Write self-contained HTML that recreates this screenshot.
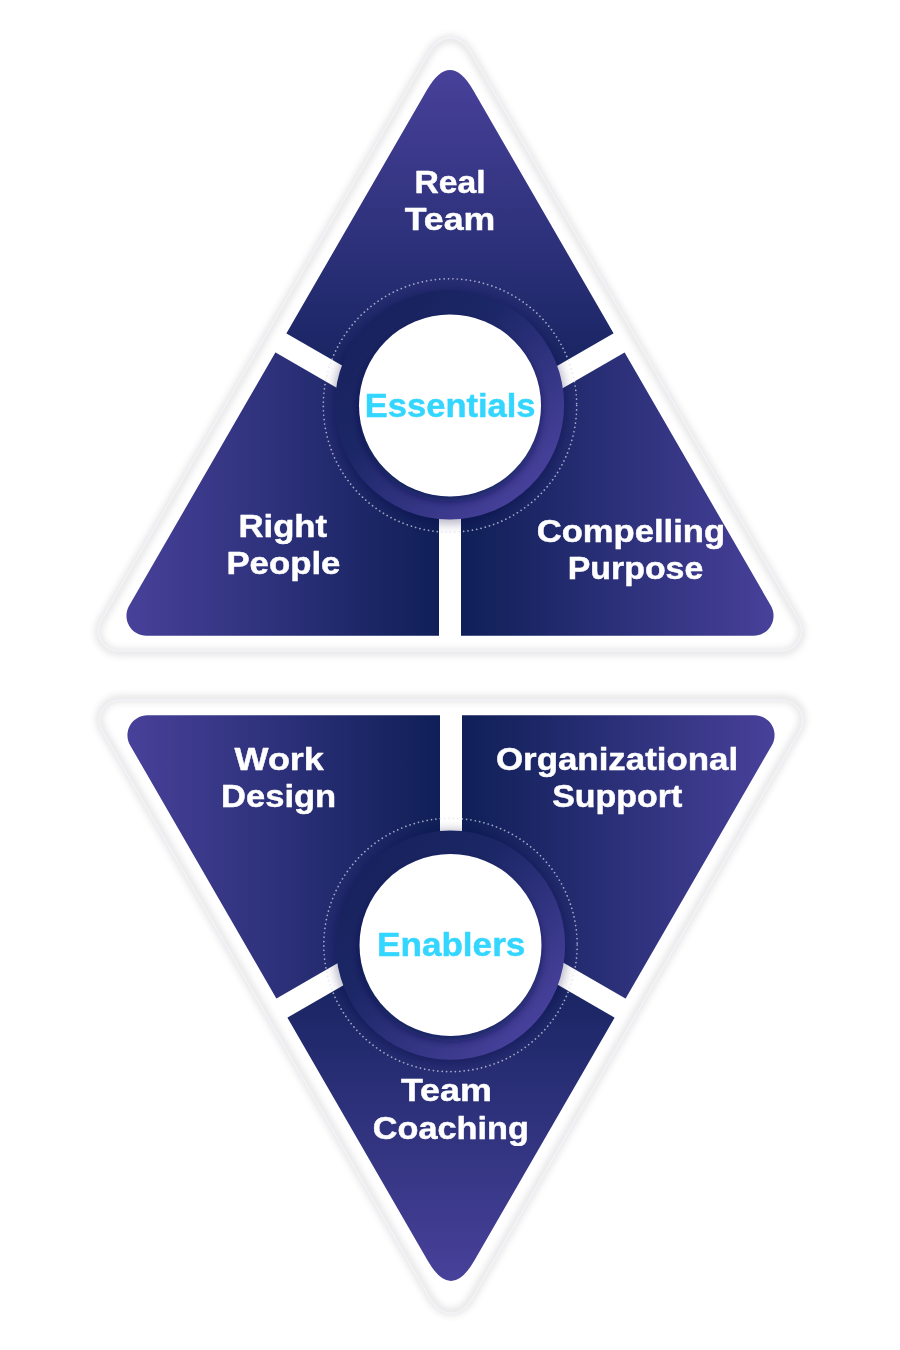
<!DOCTYPE html>
<html lang="en">
<head>
<meta charset="utf-8">
<title>Essentials and Enablers</title>
<style>
html,body{margin:0;padding:0;background:#fff;}
body{width:900px;height:1350px;overflow:hidden;}
svg{display:block;}
text{font-family:"Liberation Sans",sans-serif;font-weight:700;white-space:pre;stroke-width:0.45px;stroke-linejoin:round;}
</style>
</head>
<body>
<svg width="900" height="1350" viewBox="0 0 900 1350">
<defs>
<linearGradient id="gTop" gradientUnits="userSpaceOnUse" x1="0" y1="70" x2="0" y2="430">
<stop offset="0" stop-color="#48419a"/><stop offset="1" stop-color="#0f1f57"/></linearGradient>
<linearGradient id="gLeft" gradientUnits="userSpaceOnUse" x1="126" y1="0" x2="440" y2="0">
<stop offset="0" stop-color="#48419a"/><stop offset="1" stop-color="#0f1f57"/></linearGradient>
<linearGradient id="gRight" gradientUnits="userSpaceOnUse" x1="460" y1="0" x2="774" y2="0">
<stop offset="0" stop-color="#0f1f57"/><stop offset="1" stop-color="#48419a"/></linearGradient>
<linearGradient id="gRing" gradientUnits="objectBoundingBox" x1="0.15" y1="0.15" x2="0.85" y2="0.85">
<stop offset="0" stop-color="#17225e"/><stop offset="0.35" stop-color="#1c2767"/><stop offset="1" stop-color="#46409a"/></linearGradient>
<filter id="blur3" x="-10%" y="-10%" width="120%" height="120%"><feGaussianBlur stdDeviation="3.3"/></filter>
<filter id="blur4" x="-20%" y="-20%" width="140%" height="140%"><feGaussianBlur stdDeviation="4"/></filter>
<filter id="blur5" x="-20%" y="-20%" width="140%" height="140%"><feGaussianBlur stdDeviation="5"/></filter>
</defs>
<rect width="900" height="1350" fill="#fff"/>
<g>
<path d="M428.55 53.25 C440.45 32.63 459.55 32.63 471.45 53.25 L798.81 620.25 A20.50 20.50 0 0 1 781.05 651.00 L118.95 651.00 A20.50 20.50 0 0 1 101.19 620.25 Z" fill="none" stroke="#000" stroke-opacity="0.095" stroke-width="8" filter="url(#blur3)" transform="translate(0,1.3)"/>
<path d="M428.55 53.25 C440.45 32.63 459.55 32.63 471.45 53.25 L798.81 620.25 A20.50 20.50 0 0 1 781.05 651.00 L118.95 651.00 A20.50 20.50 0 0 1 101.19 620.25 Z" fill="none" stroke="#f5f4fd" stroke-width="1.2"/>
<clipPath id="clipt"><path d="M426.90 90.01 Q450.00 50.00 473.10 90.01 L770.89 605.80 A20.00 20.00 0 0 1 753.57 635.80 L146.43 635.80 A20.00 20.00 0 0 1 129.11 605.80 Z"/></clipPath>
<g clip-path="url(#clipt)">
<polygon points="450.00,427.83 -589.23,-172.17 -750.00,-1972.17 1650.00,-1972.17 1489.23,-172.17" fill="url(#gTop)"/>
<polygon points="439.00,446.88 -600.23,-153.12 -1950.00,1646.88 439.00,1646.88" fill="url(#gLeft)"/>
<polygon points="461.00,446.88 1500.23,-153.12 2850.00,1646.88 461.00,1646.88" fill="url(#gRight)"/>
</g>
</g>
<circle cx="449.5" cy="406.8" r="117.6" fill="#060f3c" fill-opacity="0.27" filter="url(#blur5)"/>
<circle cx="449.5" cy="404.8" r="114.6" fill="url(#gRing)"/>
<circle cx="450" cy="410.5" r="91" fill="#0a1445" fill-opacity="0.6" filter="url(#blur4)"/>
<circle cx="450" cy="405.5" r="91" fill="#fff"/>
<circle cx="450" cy="405.5" r="126.7" fill="none" stroke="#e0e0f2" stroke-opacity="0.7" stroke-width="1.7" stroke-dasharray="0.01 4.4" stroke-linecap="round"/>
<g transform="translate(1,1351) scale(1,-1)">
<path d="M428.55 53.25 C440.45 32.63 459.55 32.63 471.45 53.25 L798.81 620.25 A20.50 20.50 0 0 1 781.05 651.00 L118.95 651.00 A20.50 20.50 0 0 1 101.19 620.25 Z" fill="none" stroke="#000" stroke-opacity="0.095" stroke-width="8" filter="url(#blur3)" transform="translate(0,1.3)"/>
<path d="M428.55 53.25 C440.45 32.63 459.55 32.63 471.45 53.25 L798.81 620.25 A20.50 20.50 0 0 1 781.05 651.00 L118.95 651.00 A20.50 20.50 0 0 1 101.19 620.25 Z" fill="none" stroke="#f5f4fd" stroke-width="1.2"/>
<clipPath id="clipb"><path d="M426.90 90.01 Q450.00 50.00 473.10 90.01 L770.89 605.80 A20.00 20.00 0 0 1 753.57 635.80 L146.43 635.80 A20.00 20.00 0 0 1 129.11 605.80 Z"/></clipPath>
<g clip-path="url(#clipb)">
<polygon points="450.00,427.83 -589.23,-172.17 -750.00,-1972.17 1650.00,-1972.17 1489.23,-172.17" fill="url(#gTop)"/>
<polygon points="439.00,446.88 -600.23,-153.12 -1950.00,1646.88 439.00,1646.88" fill="url(#gLeft)"/>
<polygon points="461.00,446.88 1500.23,-153.12 2850.00,1646.88 461.00,1646.88" fill="url(#gRight)"/>
</g>
</g>
<circle cx="450.5" cy="947.2" r="117.6" fill="#060f3c" fill-opacity="0.27" filter="url(#blur5)"/>
<circle cx="450.5" cy="945.2" r="114.6" fill="url(#gRing)"/>
<circle cx="450.5" cy="950" r="91" fill="#0a1445" fill-opacity="0.6" filter="url(#blur4)"/>
<circle cx="450.5" cy="945" r="91" fill="#fff"/>
<circle cx="450.5" cy="945" r="126.7" fill="none" stroke="#e0e0f2" stroke-opacity="0.7" stroke-width="1.7" stroke-dasharray="0.01 4.4" stroke-linecap="round"/>
<g opacity="0.999">
<text id="t1" x="414.49" y="192.70" font-size="30.43" fill="#fff" stroke="#fff" textLength="71.12" lengthAdjust="spacingAndGlyphs">Real</text>
<text id="t2" x="404.70" y="230.30" font-size="30.43" fill="#fff" stroke="#fff" textLength="90.53" lengthAdjust="spacingAndGlyphs">Team</text>
<text id="t3" x="364.87" y="416.50" font-size="32.46" fill="#33d6ff" stroke="#33d6ff" textLength="170.64" lengthAdjust="spacingAndGlyphs">Essentials</text>
<text id="t4" x="238.42" y="536.50" font-size="30.43" fill="#fff" stroke="#fff" textLength="88.73" lengthAdjust="spacingAndGlyphs">Right</text>
<text id="t5" x="226.41" y="573.60" font-size="30.43" fill="#fff" stroke="#fff" textLength="114.04" lengthAdjust="spacingAndGlyphs">People</text>
<text id="t6" x="536.66" y="541.60" font-size="30.43" fill="#fff" stroke="#fff" textLength="188.44" lengthAdjust="spacingAndGlyphs">Compelling</text>
<text id="t7" x="567.77" y="578.90" font-size="30.43" fill="#fff" stroke="#fff" textLength="135.45" lengthAdjust="spacingAndGlyphs">Purpose</text>
<text id="t8" x="234.60" y="770.10" font-size="30.43" fill="#fff" stroke="#fff" textLength="89.30" lengthAdjust="spacingAndGlyphs">Work</text>
<text id="t9" x="221.13" y="807.30" font-size="30.43" fill="#fff" stroke="#fff" textLength="115.06" lengthAdjust="spacingAndGlyphs">Design</text>
<text id="t10" x="495.95" y="770.30" font-size="30.43" fill="#fff" stroke="#fff" textLength="242.21" lengthAdjust="spacingAndGlyphs">Organizational</text>
<text id="t11" x="552.20" y="807.30" font-size="30.43" fill="#fff" stroke="#fff" textLength="130.15" lengthAdjust="spacingAndGlyphs">Support</text>
<text id="t12" x="377.04" y="956.20" font-size="32.46" fill="#33d6ff" stroke="#33d6ff" textLength="148.30" lengthAdjust="spacingAndGlyphs">Enablers</text>
<text id="t13" x="400.90" y="1101.30" font-size="30.43" fill="#fff" stroke="#fff" textLength="90.94" lengthAdjust="spacingAndGlyphs">Team</text>
<text id="t14" x="372.88" y="1138.50" font-size="30.43" fill="#fff" stroke="#fff" textLength="155.91" lengthAdjust="spacingAndGlyphs">Coaching</text>
</g>
</svg>
</body>
</html>
